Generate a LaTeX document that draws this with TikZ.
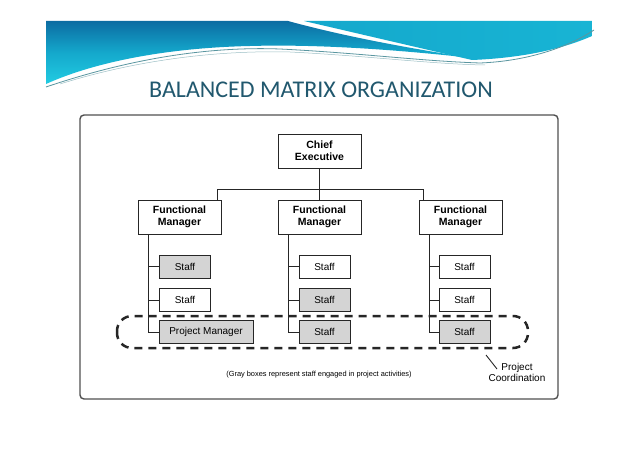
\documentclass[tikz,border=0pt]{standalone}
\usepackage{fontspec}
\setmainfont{Liberation Sans}
\newfontfamily\titlefont{Carlito}
\definecolor{titleblue}{RGB}{33,88,110}
\definecolor{deepblue}{RGB}{12,108,162}
\definecolor{cyanlow}{RGB}{34,204,226}
\definecolor{midcyan}{RGB}{20,168,204}
\definecolor{rightcyan}{RGB}{24,180,212}
\definecolor{swline}{RGB}{90,150,160}
\definecolor{grayfill}{RGB}{212,212,212}
\definecolor{framegray}{RGB}{80,80,80}
\tikzset{
  box/.style={draw=black!85, line width=0.9pt, inner sep=0pt, minimum height=34pt, minimum width=83pt, align=center, font=\fontsize{10.5}{12}\selectfont\bfseries},
  staffbox/.style={draw=black!85, line width=0.9pt, inner sep=0pt, minimum height=23pt, minimum width=51pt, font=\fontsize{10}{12}\selectfont},
  grayed/.style={fill=grayfill},
  conn/.style={draw=black!85, line width=0.9pt},
}
\begin{document}
\begin{tikzpicture}[x=1pt,y=-1pt]
\useasboundingbox (0,0) rectangle (638,452);
\fill[white] (0,0) rectangle (638,452);
% banner
\shade[top color=deepblue, bottom color=cyanlow, middle color=midcyan]
  (46,21) -- (288,21) .. controls (350,38) and (420,50) .. (472,58)
  .. controls (400,50) and (320,44) .. (250,46)
  .. controls (160,48) and (90,64) .. (46,84) -- cycle;
\shade[left color=midcyan, right color=rightcyan]
  (304,21) -- (592,21) -- (592,36) .. controls (560,50) and (520,58) .. (472,60)
  .. controls (420,48) and (360,34) .. (304,21) -- cycle;
\draw[swline, line width=0.8pt] (46,87) .. controls (120,62) and (200,46) .. (280,49)
  .. controls (360,53) and (420,61) .. (480,63) .. controls (530,61) and (570,46) .. (594,30);
\draw[swline!60, line width=0.5pt] (60,84) .. controls (130,62) and (210,50) .. (290,52)
  .. controls (370,56) and (430,64) .. (485,65);
\node[font=\titlefont\fontsize{24}{28}\selectfont, text=titleblue] (title) at (321,90) {BALANCED MATRIX ORGANIZATION};
% outer frame
\draw[framegray, line width=1.4pt, rounded corners=4pt] (80,115) rectangle (558,399);
% nodes
\node[box] (chief) at (319.5,151) {Chief\\Executive};
\node[box] (fm1) at (179.5,217) {Functional\\Manager};
\node[box] (fm2) at (319.5,217) {Functional\\Manager};
\node[box] (fm3) at (460.5,217) {Functional\\Manager};
\node[staffbox, grayed] (s11) at (185,266.5) {Staff};
\node[staffbox] (s12) at (185,300) {Staff};
\node[staffbox, grayed, minimum width=94pt] (pm) at (206,332) {Project Manager};
\node[staffbox] (s21) at (324.5,266.5) {Staff};
\node[staffbox, grayed] (s22) at (324.5,300) {Staff};
\node[staffbox, grayed] (s23) at (324.5,332) {Staff};
\node[staffbox] (s31) at (464.5,266.5) {Staff};
\node[staffbox] (s32) at (464.5,300) {Staff};
\node[staffbox, grayed] (s33) at (464.5,332) {Staff};
% connectors
\coordinate (jl) at (217,189);
\coordinate (jr) at (423,189);
\draw[conn] (chief.south) -- (fm2.north);
\draw[conn] (jl |- fm1.north) -- (jl) -- (jr) -- (jr |- fm3.north);
\coordinate (sp1) at (148,234);
\coordinate (sp2) at (288,234);
\coordinate (sp3) at (429,234);
\draw[conn] (sp1) |- (pm.west);
\draw[conn] (sp1) |- (s11.west);
\draw[conn] (sp1) |- (s12.west);
\draw[conn] (sp2) |- (s23.west);
\draw[conn] (sp2) |- (s21.west);
\draw[conn] (sp2) |- (s22.west);
\draw[conn] (sp3) |- (s33.west);
\draw[conn] (sp3) |- (s31.west);
\draw[conn] (sp3) |- (s32.west);
% project coordination
\draw[black!85, line width=2.5pt, dash pattern=on 8pt off 6pt, rounded corners=15pt] (117,316) rectangle (528,348);
\node[font=\fontsize{10}{11}\selectfont, align=center] (pc) at (517,372) {Project\\Coordination};
\coordinate (pcend) at (486,355);
\draw[black!85, line width=0.9pt] (pcend) -- (497,369);
\node[font=\fontsize{7.4}{9}\selectfont] (cap) at (319,375) {(Gray boxes represent staff engaged in project activities)};
\end{tikzpicture}
\end{document}
